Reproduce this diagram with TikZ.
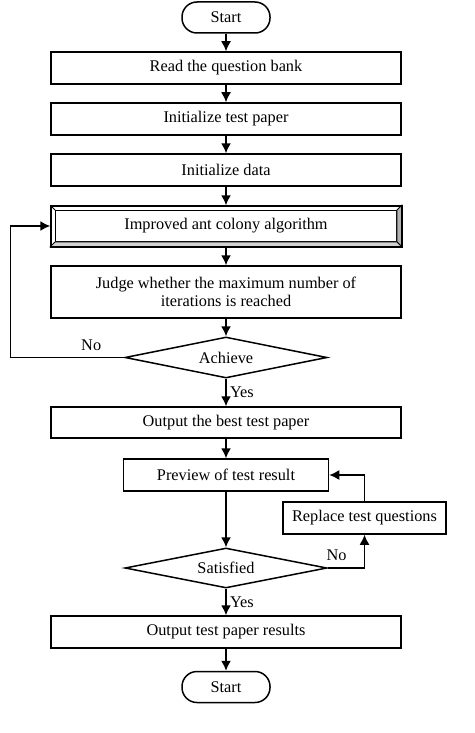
\documentclass[tikz,border=0pt]{standalone}
\usepackage{fontspec}
\setmainfont{Liberation Serif}
\usetikzlibrary{shapes.geometric, arrows.meta}

\begin{document}
\begin{tikzpicture}[> = {Latex[length = 10pt, width = 10pt]}, x = 1pt, y = -1pt,
	font = \fontsize{16.3}{18}\selectfont,
	box/.style = {draw, line width = 1.5pt, minimum width = 350pt, minimum height = 32pt, inner sep = 2pt, align = center},
	terminal/.style = {draw, line width = 1.5pt, rounded corners = 15pt, minimum width = 88pt, minimum height = 31pt},
	decision/.style = {draw, diamond, line width = 1.5pt, aspect = 5, minimum width = 202pt, minimum height = 41pt, inner sep = 0pt},
	flow/.style = {->, line width = 1.5pt}]

	% Definitions

	\def\cx{226} 	% x of the main column

	\useasboundingbox (0, 0) rectangle (474, 733);

	% Main column

	\node [terminal] (start) at (\cx, 17.5) {Start};
	\node [box] (read) at (\cx, 68) {Read the question bank};
	\node [box] (init) at (\cx, 119) {Initialize test paper};
	\node [box] (data) at (\cx, 170) {Initialize data};
	\node [box, minimum height = 40pt] (algo) at (\cx, 226) {Improved ant colony algorithm};
	\node [box, minimum height = 52pt] (judge) at (\cx, 292) {Judge whether the maximum number of\\iterations is reached};
	\node [decision] (achieve) at (\cx, 357.5) {Achieve};
	\node [box, minimum height = 31pt] (best) at (\cx, 422.5) {Output the best test paper};
	\node [box, minimum width = 205pt] (preview) at (\cx, 475) {Preview of test result};
	\node [box, minimum width = 163pt] (replace) at (364.5, 518) {Replace test questions};
	\node [decision, minimum height = 40pt] (satisfied) at (\cx, 568) {Satisfied};
	\node [box] (results) at (\cx, 632) {Output test paper results};
	\node [terminal] (stop) at (\cx, 687) {Start};

	% Bevel of the algorithm box

	\node [draw, line width = 0.9pt, minimum width = 341pt, minimum height = 31pt] (algoin) at (algo) {};
	\filldraw [fill = gray!60, line width = 0.9pt] (algo.north east) -- (algo.south east) -- (algoin.south east) -- (algoin.north east) -- cycle;
	\filldraw [fill = gray!35, line width = 0.9pt] (algo.south west) -- (algo.south east) -- (algoin.south east) -- (algoin.south west) -- cycle;
	\draw [line width = 0.9pt] (algo.north west) -- (algoin.north west);
	\draw [line width = 1.5pt] (algo.north west) rectangle (algo.south east);

	% Connectors

	\draw [flow] (start) -- (read);
	\draw [flow] (read) -- (init);
	\draw [flow] (init) -- (data);
	\draw [flow] (data) -- (algo);
	\draw [flow] (algo) -- (judge);
	\draw [flow] (judge) -- (achieve);
	\draw [flow] (achieve) -- node [right] {Yes} (best);
	\draw [flow] (achieve.west) -- node [above = 3pt, pos = 0.29] {No} ++(-114, 0) |- (algo.west);
	\draw [flow] (best) -- (preview);
	\draw [flow] (preview) -- (satisfied);
	\draw [flow] (satisfied.east) -| node [above = 3pt, pos = 0.12] {No} (replace.south);
	\draw [flow] (replace.north) |- (preview.east);
	\draw [flow] (satisfied) -- node [right] {Yes} (results);
	\draw [flow] (results) -- (stop);

\end{tikzpicture}
\end{document}
